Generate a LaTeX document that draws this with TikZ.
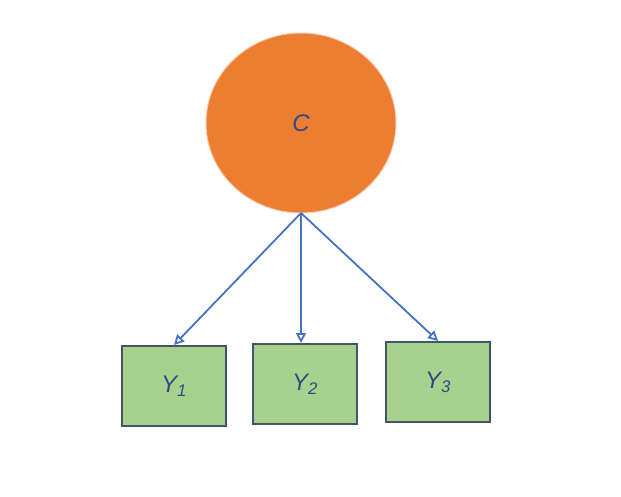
\documentclass[tikz,border=0pt]{standalone}
\usepackage{fontspec}
\setmainfont{Liberation Sans}
\usetikzlibrary{arrows.meta,shapes.geometric,calc}
\definecolor{orng}{HTML}{ED7D31}
\definecolor{grn}{HTML}{A9D18E}
\definecolor{bord}{HTML}{44546A}
\definecolor{arr}{HTML}{4472C4}
\definecolor{txt}{HTML}{2F4B85}
\begin{document}
\begin{tikzpicture}[x=1pt,y=-1pt,
  box/.style={draw=bord,line width=2pt,fill=grn,minimum width=104pt,minimum height=80pt,inner sep=0pt,text=txt,font=\fontsize{24}{28}\selectfont\itshape},
  con/.style={draw=arr,line width=1.8pt,-{Stealth[open,length=10pt,width=10pt,inset=0pt]}}]
\useasboundingbox (0,0) rectangle (621,497);
\node[ellipse,draw=orng!40!white,line width=1pt,fill=orng,minimum width=190pt,minimum height=180pt,text=txt,font=\fontsize{24}{28}\selectfont\itshape] (c) at (301,123) {C};
\node[box] (y1) at (174,386) {Y\textsubscript{1}};
\node[box] (y2) at (305,384) {Y\textsubscript{2}};
\node[box] (y3) at (438,382) {Y\textsubscript{3}};
\coordinate (s) at (301,213);
\draw[con] (s) -- (y1.north);
\draw[con] (s) -- ($(y2.north)+(-4,0)$);
\draw[con] (s) -- (y3.north);
\end{tikzpicture}
\end{document}
